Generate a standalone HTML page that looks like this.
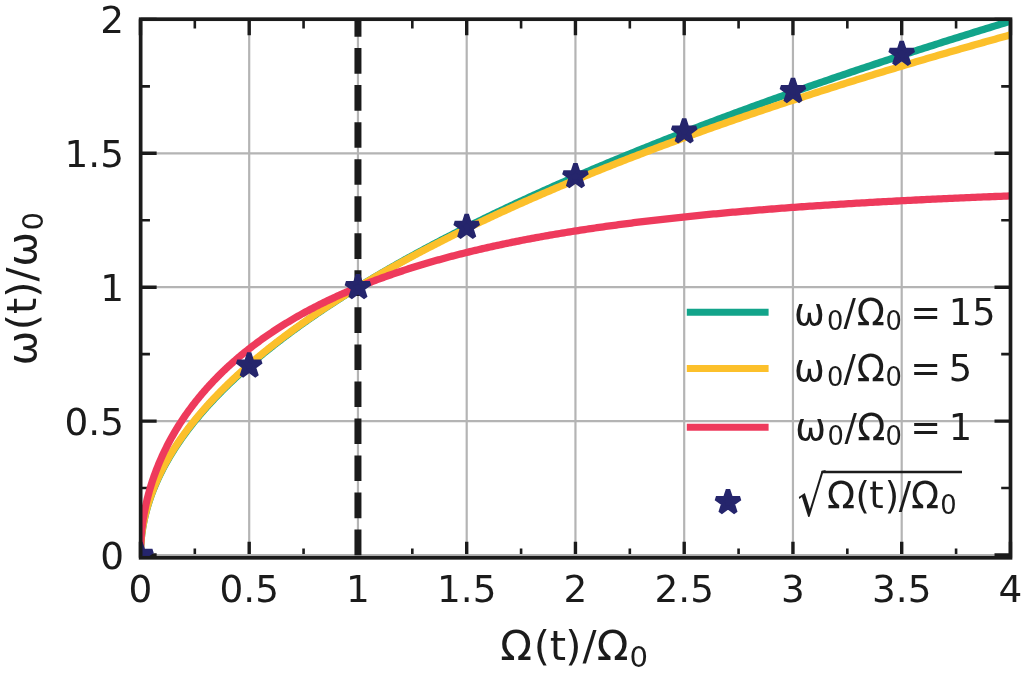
<!DOCTYPE html>
<html><head><meta charset="utf-8"><title>plot</title><style>html,body{margin:0;padding:0;background:#fff}body{width:1025px;height:673px;overflow:hidden}</style></head><body>
<svg width="1025" height="673" viewBox="0 0 1025 673" style="display:block">
<rect width="1025" height="673" fill="#fff"/>
<defs><clipPath id="ax"><rect x="140.65" y="19.20" width="869.85" height="538.60"/></clipPath></defs>
<path d="M140.45 19.2 V557.8 M249.20 19.2 V557.8 M357.95 19.2 V557.8 M466.70 19.2 V557.8 M575.45 19.2 V557.8 M684.20 19.2 V557.8 M792.95 19.2 V557.8 M901.70 19.2 V557.8 M1010.45 19.2 V557.8" stroke="#b4b4b4" stroke-width="2.2" fill="none"/>
<path d="M140.45 557.8 v-16 M140.45 19.2 v16 M249.20 557.8 v-16 M249.20 19.2 v16 M357.95 557.8 v-16 M357.95 19.2 v16 M466.70 557.8 v-16 M466.70 19.2 v16 M575.45 557.8 v-16 M575.45 19.2 v16 M684.20 557.8 v-16 M684.20 19.2 v16 M792.95 557.8 v-16 M792.95 19.2 v16 M901.70 557.8 v-16 M901.70 19.2 v16 M1010.45 557.8 v-16 M1010.45 19.2 v16" stroke="#1b1b1b" stroke-width="3.4" fill="none"/>
<path d="M194.82 557.8 v-9.3 M194.82 19.2 v9.3 M303.57 557.8 v-9.3 M303.57 19.2 v9.3 M412.32 557.8 v-9.3 M412.32 19.2 v9.3 M521.08 557.8 v-9.3 M521.08 19.2 v9.3 M629.83 557.8 v-9.3 M629.83 19.2 v9.3 M738.58 557.8 v-9.3 M738.58 19.2 v9.3 M847.33 557.8 v-9.3 M847.33 19.2 v9.3 M956.08 557.8 v-9.3 M956.08 19.2 v9.3" stroke="#1b1b1b" stroke-width="2.6" fill="none"/>
<path d="M140.65 555.00 H1010.5 M140.65 421.10 H1010.5 M140.65 287.20 H1010.5 M140.65 153.30 H1010.5 M140.65 19.40 H1010.5" stroke="#b4b4b4" stroke-width="2.2" fill="none"/>
<path d="M140.65 555.00 h16 M1010.5 555.00 h-16 M140.65 421.10 h16 M1010.5 421.10 h-16 M140.65 287.20 h16 M1010.5 287.20 h-16 M140.65 153.30 h16 M1010.5 153.30 h-16 M140.65 19.40 h16 M1010.5 19.40 h-16" stroke="#1b1b1b" stroke-width="3.4" fill="none"/>
<path d="M140.65 488.05 h9.3 M1010.5 488.05 h-9.3 M140.65 354.15 h9.3 M1010.5 354.15 h-9.3 M140.65 220.25 h9.3 M1010.5 220.25 h-9.3 M140.65 86.35 h9.3 M1010.5 86.35 h-9.3" stroke="#1b1b1b" stroke-width="2.6" fill="none"/>
<path d="M357.95 555.20 V19.2" stroke="#1b1b1b" stroke-width="7" stroke-dasharray="25.6 11.44" fill="none" clip-path="url(#ax)"/>
<path d="M140.45 555.00 L140.45 554.10 L140.46 553.20 L140.47 552.30 L140.49 551.40 L140.51 550.50 L140.54 549.60 L140.57 548.71 L140.61 547.81 L140.65 546.91 L140.69 546.01 L140.75 545.11 L140.80 544.21 L140.86 543.31 L140.93 542.41 L141.00 541.51 L141.08 540.61 L141.16 539.71 L141.24 538.81 L141.33 537.91 L141.43 537.02 L141.53 536.12 L141.63 535.22 L141.74 534.32 L141.86 533.42 L141.98 532.52 L142.10 531.62 L142.23 530.72 L142.37 529.82 L142.51 528.92 L142.65 528.02 L142.80 527.12 L142.96 526.23 L143.11 525.33 L143.28 524.43 L143.45 523.53 L143.62 522.63 L143.80 521.73 L143.98 520.83 L144.17 519.93 L144.36 519.03 L144.56 518.13 L144.77 517.23 L144.97 516.33 L145.19 515.44 L145.40 514.54 L145.63 513.64 L145.86 512.74 L146.09 511.84 L146.32 510.94 L146.57 510.04 L146.81 509.14 L147.07 508.24 L147.32 507.34 L147.59 506.44 L147.85 505.54 L148.12 504.65 L148.40 503.75 L148.68 502.85 L148.97 501.95 L149.26 501.05 L149.55 500.15 L149.86 499.25 L150.16 498.35 L150.47 497.45 L150.79 496.55 L151.11 495.65 L151.43 494.76 L151.76 493.86 L152.10 492.96 L152.44 492.06 L152.78 491.16 L153.13 490.26 L153.49 489.36 L153.85 488.46 L154.21 487.56 L154.58 486.66 L154.96 485.76 L155.34 484.87 L155.72 483.97 L156.11 483.07 L156.50 482.17 L156.90 481.27 L157.31 480.37 L157.72 479.47 L158.13 478.57 L158.55 477.67 L158.97 476.77 L159.40 475.88 L159.83 474.98 L160.27 474.08 L160.71 473.18 L161.16 472.28 L161.61 471.38 L162.07 470.48 L162.53 469.58 L163.00 468.68 L163.47 467.79 L163.95 466.89 L164.43 465.99 L164.92 465.09 L165.41 464.19 L165.91 463.29 L166.41 462.39 L166.92 461.49 L167.43 460.59 L167.94 459.70 L168.46 458.80 L168.99 457.90 L169.52 457.00 L170.06 456.10 L170.60 455.20 L171.14 454.30 L171.69 453.40 L172.25 452.50 L172.81 451.61 L173.38 450.71 L173.95 449.81 L174.52 448.91 L175.10 448.01 L175.69 447.11 L176.27 446.21 L176.87 445.31 L177.47 444.42 L178.07 443.52 L178.68 442.62 L179.30 441.72 L179.92 440.82 L180.54 439.92 L181.17 439.02 L181.80 438.13 L182.44 437.23 L183.08 436.33 L183.73 435.43 L184.39 434.53 L185.04 433.63 L185.71 432.73 L186.38 431.84 L187.05 430.94 L187.73 430.04 L188.41 429.14 L189.10 428.24 L189.79 427.34 L190.49 426.44 L191.19 425.55 L191.90 424.65 L192.61 423.75 L193.32 422.85 L194.05 421.95 L194.77 421.05 L195.50 420.15 L196.24 419.26 L196.98 418.36 L197.73 417.46 L198.48 416.56 L199.24 415.66 L200.00 414.76 L200.76 413.87 L201.53 412.97 L202.31 412.07 L203.09 411.17 L203.88 410.27 L204.67 409.37 L205.46 408.47 L206.26 407.58 L207.07 406.68 L207.88 405.78 L208.69 404.88 L209.51 403.98 L210.34 403.09 L211.16 402.19 L212.00 401.29 L212.84 400.39 L213.68 399.49 L214.53 398.59 L215.39 397.70 L216.24 396.80 L217.11 395.90 L217.98 395.00 L218.85 394.10 L219.73 393.20 L220.61 392.31 L221.50 391.41 L222.39 390.51 L223.29 389.61 L224.19 388.71 L225.10 387.82 L226.01 386.92 L226.93 386.02 L227.85 385.12 L228.78 384.22 L229.71 383.33 L230.65 382.43 L231.59 381.53 L232.54 380.63 L233.49 379.73 L234.45 378.84 L235.41 377.94 L236.38 377.04 L237.35 376.14 L238.32 375.24 L239.31 374.35 L240.29 373.45 L241.28 372.55 L242.28 371.65 L243.28 370.76 L244.29 369.86 L245.30 368.96 L246.31 368.06 L247.33 367.16 L248.36 366.27 L249.39 365.37 L250.42 364.47 L251.46 363.57 L252.51 362.68 L253.56 361.78 L254.61 360.88 L255.67 359.98 L256.74 359.09 L257.80 358.19 L258.88 357.29 L259.96 356.39 L261.04 355.49 L262.13 354.60 L263.22 353.70 L264.32 352.80 L265.43 351.90 L266.54 351.01 L267.65 350.11 L268.77 349.21 L269.89 348.31 L271.02 347.42 L272.15 346.52 L273.29 345.62 L274.43 344.73 L275.58 343.83 L276.73 342.93 L277.89 342.03 L279.05 341.14 L280.22 340.24 L281.39 339.34 L282.57 338.44 L283.75 337.55 L284.94 336.65 L286.13 335.75 L287.32 334.85 L288.53 333.96 L289.73 333.06 L290.94 332.16 L292.16 331.27 L293.38 330.37 L294.61 329.47 L295.84 328.57 L297.07 327.68 L298.31 326.78 L299.56 325.88 L300.81 324.99 L302.06 324.09 L303.32 323.19 L304.59 322.30 L305.86 321.40 L307.13 320.50 L308.41 319.60 L309.70 318.71 L310.99 317.81 L312.28 316.91 L313.58 316.02 L314.89 315.12 L316.19 314.22 L317.51 313.33 L318.83 312.43 L320.15 311.53 L321.48 310.64 L322.81 309.74 L324.15 308.84 L325.49 307.95 L326.84 307.05 L328.20 306.15 L329.55 305.26 L330.92 304.36 L332.28 303.46 L333.66 302.57 L335.04 301.67 L336.42 300.77 L337.81 299.88 L339.20 298.98 L340.59 298.08 L342.00 297.19 L343.40 296.29 L344.82 295.39 L346.23 294.50 L347.65 293.60 L349.08 292.71 L350.51 291.81 L351.95 290.91 L353.39 290.02 L354.84 289.12 L356.29 288.22 L357.74 287.33 L359.20 286.43 L360.67 285.54 L362.14 284.64 L363.61 283.74 L365.10 282.85 L366.58 281.95 L368.07 281.05 L369.57 280.16 L371.07 279.26 L372.57 278.37 L374.08 277.47 L375.59 276.57 L377.11 275.68 L378.64 274.78 L380.17 273.89 L381.70 272.99 L383.24 272.09 L384.79 271.20 L386.33 270.30 L387.89 269.41 L389.45 268.51 L391.01 267.62 L392.58 266.72 L394.15 265.82 L395.73 264.93 L397.31 264.03 L398.90 263.14 L400.49 262.24 L402.09 261.35 L403.69 260.45 L405.30 259.55 L406.91 258.66 L408.53 257.76 L410.15 256.87 L411.78 255.97 L413.41 255.08 L415.05 254.18 L416.69 253.29 L418.34 252.39 L419.99 251.49 L421.65 250.60 L423.31 249.70 L424.98 248.81 L426.65 247.91 L428.32 247.02 L430.00 246.12 L431.69 245.23 L433.38 244.33 L435.08 243.44 L436.78 242.54 L438.48 241.65 L440.19 240.75 L441.91 239.86 L443.63 238.96 L445.35 238.07 L447.08 237.17 L448.82 236.28 L450.56 235.38 L452.30 234.49 L454.05 233.59 L455.81 232.70 L457.56 231.80 L459.33 230.91 L461.10 230.01 L462.87 229.12 L464.65 228.22 L466.43 227.33 L468.22 226.43 L470.02 225.54 L471.82 224.64 L473.62 223.75 L475.43 222.85 L477.24 221.96 L479.06 221.07 L480.88 220.17 L482.71 219.28 L484.54 218.38 L486.38 217.49 L488.22 216.59 L490.07 215.70 L491.92 214.80 L493.78 213.91 L495.64 213.02 L497.51 212.12 L499.38 211.23 L501.26 210.33 L503.14 209.44 L505.02 208.54 L506.92 207.65 L508.81 206.76 L510.71 205.86 L512.62 204.97 L514.53 204.07 L516.45 203.18 L518.37 202.28 L520.29 201.39 L522.22 200.50 L524.16 199.60 L526.10 198.71 L528.04 197.81 L529.99 196.92 L531.95 196.03 L533.91 195.13 L535.87 194.24 L537.84 193.35 L539.82 192.45 L541.80 191.56 L543.78 190.66 L545.77 189.77 L547.77 188.88 L549.77 187.98 L551.77 187.09 L553.78 186.20 L555.79 185.30 L557.81 184.41 L559.83 183.52 L561.86 182.62 L563.90 181.73 L565.93 180.84 L567.98 179.94 L570.03 179.05 L572.08 178.16 L574.14 177.26 L576.20 176.37 L578.27 175.48 L580.34 174.58 L582.42 173.69 L584.50 172.80 L586.59 171.90 L588.68 171.01 L590.78 170.12 L592.88 169.22 L594.98 168.33 L597.10 167.44 L599.21 166.55 L601.33 165.65 L603.46 164.76 L605.59 163.87 L607.73 162.97 L609.87 162.08 L612.01 161.19 L614.16 160.30 L616.32 159.40 L618.48 158.51 L620.65 157.62 L622.82 156.72 L624.99 155.83 L627.17 154.94 L629.36 154.05 L631.55 153.15 L633.74 152.26 L635.94 151.37 L638.15 150.48 L640.36 149.58 L642.57 148.69 L644.79 147.80 L647.01 146.91 L649.24 146.02 L651.48 145.12 L653.72 144.23 L655.96 143.34 L658.21 142.45 L660.46 141.55 L662.72 140.66 L664.98 139.77 L667.25 138.88 L669.53 137.99 L671.80 137.09 L674.09 136.20 L676.37 135.31 L678.67 134.42 L680.96 133.53 L683.27 132.64 L685.57 131.74 L687.89 130.85 L690.20 129.96 L692.53 129.07 L694.85 128.18 L697.19 127.29 L699.52 126.39 L701.86 125.50 L704.21 124.61 L706.56 123.72 L708.92 122.83 L711.28 121.94 L713.65 121.04 L716.02 120.15 L718.39 119.26 L720.77 118.37 L723.16 117.48 L725.55 116.59 L727.94 115.70 L730.35 114.81 L732.75 113.92 L735.16 113.02 L737.58 112.13 L740.00 111.24 L742.42 110.35 L744.85 109.46 L747.28 108.57 L749.72 107.68 L752.17 106.79 L754.62 105.90 L757.07 105.01 L759.53 104.11 L762.00 103.22 L764.46 102.33 L766.94 101.44 L769.42 100.55 L771.90 99.66 L774.39 98.77 L776.88 97.88 L779.38 96.99 L781.88 96.10 L784.39 95.21 L786.90 94.32 L789.42 93.43 L791.95 92.54 L794.47 91.65 L797.01 90.76 L799.54 89.87 L802.09 88.98 L804.63 88.09 L807.18 87.20 L809.74 86.31 L812.30 85.42 L814.87 84.53 L817.44 83.64 L820.02 82.75 L822.60 81.86 L825.19 80.97 L827.78 80.08 L830.37 79.19 L832.97 78.30 L835.58 77.41 L838.19 76.52 L840.81 75.63 L843.43 74.74 L846.05 73.85 L848.68 72.96 L851.32 72.07 L853.96 71.18 L856.60 70.29 L859.25 69.40 L861.91 68.51 L864.57 67.62 L867.23 66.73 L869.90 65.85 L872.58 64.96 L875.26 64.07 L877.94 63.18 L880.63 62.29 L883.32 61.40 L886.02 60.51 L888.73 59.62 L891.44 58.73 L894.15 57.84 L896.87 56.95 L899.59 56.07 L902.32 55.18 L905.05 54.29 L907.79 53.40 L910.53 52.51 L913.28 51.62 L916.03 50.73 L918.79 49.85 L921.55 48.96 L924.32 48.07 L927.09 47.18 L929.87 46.29 L932.65 45.40 L935.44 44.51 L938.23 43.63 L941.03 42.74 L943.83 41.85 L946.64 40.96 L949.45 40.07 L952.26 39.19 L955.09 38.30 L957.91 37.41 L960.74 36.52 L963.58 35.63 L966.42 34.75 L969.27 33.86 L972.12 32.97 L974.97 32.08 L977.83 31.19 L980.70 30.31 L983.57 29.42 L986.44 28.53 L989.32 27.64 L992.21 26.76 L995.10 25.87 L997.99 24.98 L1000.89 24.09 L1003.80 23.21 L1006.70 22.32 L1009.62 21.43 L1012.54 20.54 L1015.46 19.66 L1018.39 18.77 L1021.33 17.88" stroke="#12a48a" stroke-width="7.3" fill="none" stroke-linejoin="round" clip-path="url(#ax)"/>
<path d="M140.45 555.00 L140.45 554.09 L140.46 553.19 L140.47 552.28 L140.49 551.37 L140.51 550.46 L140.54 549.56 L140.57 548.65 L140.61 547.74 L140.65 546.84 L140.69 545.93 L140.75 545.02 L140.80 544.12 L140.86 543.21 L140.93 542.30 L141.00 541.39 L141.08 540.49 L141.16 539.58 L141.24 538.67 L141.33 537.77 L141.43 536.86 L141.53 535.95 L141.63 535.05 L141.74 534.14 L141.86 533.23 L141.98 532.32 L142.10 531.42 L142.23 530.51 L142.37 529.60 L142.51 528.70 L142.65 527.79 L142.80 526.88 L142.96 525.98 L143.11 525.07 L143.28 524.16 L143.45 523.26 L143.62 522.35 L143.80 521.44 L143.98 520.54 L144.17 519.63 L144.36 518.72 L144.56 517.82 L144.77 516.91 L144.97 516.00 L145.19 515.10 L145.40 514.19 L145.63 513.28 L145.86 512.38 L146.09 511.47 L146.32 510.56 L146.57 509.66 L146.81 508.75 L147.07 507.85 L147.32 506.94 L147.59 506.03 L147.85 505.13 L148.12 504.22 L148.40 503.32 L148.68 502.41 L148.97 501.50 L149.26 500.60 L149.55 499.69 L149.86 498.78 L150.16 497.88 L150.47 496.97 L150.79 496.07 L151.11 495.16 L151.43 494.26 L151.76 493.35 L152.10 492.44 L152.44 491.54 L152.78 490.63 L153.13 489.73 L153.49 488.82 L153.85 487.92 L154.21 487.01 L154.58 486.11 L154.96 485.20 L155.34 484.30 L155.72 483.39 L156.11 482.48 L156.50 481.58 L156.90 480.67 L157.31 479.77 L157.72 478.86 L158.13 477.96 L158.55 477.05 L158.97 476.15 L159.40 475.25 L159.83 474.34 L160.27 473.44 L160.71 472.53 L161.16 471.63 L161.61 470.72 L162.07 469.82 L162.53 468.91 L163.00 468.01 L163.47 467.10 L163.95 466.20 L164.43 465.30 L164.92 464.39 L165.41 463.49 L165.91 462.58 L166.41 461.68 L166.92 460.78 L167.43 459.87 L167.94 458.97 L168.46 458.07 L168.99 457.16 L169.52 456.26 L170.06 455.35 L170.60 454.45 L171.14 453.55 L171.69 452.64 L172.25 451.74 L172.81 450.84 L173.38 449.93 L173.95 449.03 L174.52 448.13 L175.10 447.23 L175.69 446.32 L176.27 445.42 L176.87 444.52 L177.47 443.62 L178.07 442.71 L178.68 441.81 L179.30 440.91 L179.92 440.01 L180.54 439.10 L181.17 438.20 L181.80 437.30 L182.44 436.40 L183.08 435.50 L183.73 434.59 L184.39 433.69 L185.04 432.79 L185.71 431.89 L186.38 430.99 L187.05 430.09 L187.73 429.18 L188.41 428.28 L189.10 427.38 L189.79 426.48 L190.49 425.58 L191.19 424.68 L191.90 423.78 L192.61 422.88 L193.32 421.98 L194.05 421.08 L194.77 420.18 L195.50 419.28 L196.24 418.38 L196.98 417.47 L197.73 416.57 L198.48 415.67 L199.24 414.77 L200.00 413.88 L200.76 412.98 L201.53 412.08 L202.31 411.18 L203.09 410.28 L203.88 409.38 L204.67 408.48 L205.46 407.58 L206.26 406.68 L207.07 405.78 L207.88 404.88 L208.69 403.98 L209.51 403.08 L210.34 402.19 L211.16 401.29 L212.00 400.39 L212.84 399.49 L213.68 398.59 L214.53 397.69 L215.39 396.80 L216.24 395.90 L217.11 395.00 L217.98 394.10 L218.85 393.21 L219.73 392.31 L220.61 391.41 L221.50 390.51 L222.39 389.62 L223.29 388.72 L224.19 387.82 L225.10 386.93 L226.01 386.03 L226.93 385.13 L227.85 384.24 L228.78 383.34 L229.71 382.44 L230.65 381.55 L231.59 380.65 L232.54 379.76 L233.49 378.86 L234.45 377.96 L235.41 377.07 L236.38 376.17 L237.35 375.28 L238.32 374.38 L239.31 373.49 L240.29 372.59 L241.28 371.70 L242.28 370.80 L243.28 369.91 L244.29 369.01 L245.30 368.12 L246.31 367.23 L247.33 366.33 L248.36 365.44 L249.39 364.54 L250.42 363.65 L251.46 362.76 L252.51 361.86 L253.56 360.97 L254.61 360.08 L255.67 359.18 L256.74 358.29 L257.80 357.40 L258.88 356.51 L259.96 355.61 L261.04 354.72 L262.13 353.83 L263.22 352.94 L264.32 352.04 L265.43 351.15 L266.54 350.26 L267.65 349.37 L268.77 348.48 L269.89 347.59 L271.02 346.69 L272.15 345.80 L273.29 344.91 L274.43 344.02 L275.58 343.13 L276.73 342.24 L277.89 341.35 L279.05 340.46 L280.22 339.57 L281.39 338.68 L282.57 337.79 L283.75 336.90 L284.94 336.01 L286.13 335.12 L287.32 334.23 L288.53 333.34 L289.73 332.45 L290.94 331.57 L292.16 330.68 L293.38 329.79 L294.61 328.90 L295.84 328.01 L297.07 327.12 L298.31 326.24 L299.56 325.35 L300.81 324.46 L302.06 323.57 L303.32 322.69 L304.59 321.80 L305.86 320.91 L307.13 320.02 L308.41 319.14 L309.70 318.25 L310.99 317.37 L312.28 316.48 L313.58 315.59 L314.89 314.71 L316.19 313.82 L317.51 312.94 L318.83 312.05 L320.15 311.16 L321.48 310.28 L322.81 309.39 L324.15 308.51 L325.49 307.63 L326.84 306.74 L328.20 305.86 L329.55 304.97 L330.92 304.09 L332.28 303.20 L333.66 302.32 L335.04 301.44 L336.42 300.55 L337.81 299.67 L339.20 298.79 L340.59 297.91 L342.00 297.02 L343.40 296.14 L344.82 295.26 L346.23 294.38 L347.65 293.49 L349.08 292.61 L350.51 291.73 L351.95 290.85 L353.39 289.97 L354.84 289.09 L356.29 288.21 L357.74 287.33 L359.20 286.44 L360.67 285.56 L362.14 284.68 L363.61 283.80 L365.10 282.92 L366.58 282.04 L368.07 281.17 L369.57 280.29 L371.07 279.41 L372.57 278.53 L374.08 277.65 L375.59 276.77 L377.11 275.89 L378.64 275.01 L380.17 274.14 L381.70 273.26 L383.24 272.38 L384.79 271.50 L386.33 270.63 L387.89 269.75 L389.45 268.87 L391.01 267.99 L392.58 267.12 L394.15 266.24 L395.73 265.37 L397.31 264.49 L398.90 263.61 L400.49 262.74 L402.09 261.86 L403.69 260.99 L405.30 260.11 L406.91 259.24 L408.53 258.36 L410.15 257.49 L411.78 256.61 L413.41 255.74 L415.05 254.87 L416.69 253.99 L418.34 253.12 L419.99 252.25 L421.65 251.37 L423.31 250.50 L424.98 249.63 L426.65 248.76 L428.32 247.88 L430.00 247.01 L431.69 246.14 L433.38 245.27 L435.08 244.40 L436.78 243.53 L438.48 242.65 L440.19 241.78 L441.91 240.91 L443.63 240.04 L445.35 239.17 L447.08 238.30 L448.82 237.43 L450.56 236.56 L452.30 235.69 L454.05 234.82 L455.81 233.96 L457.56 233.09 L459.33 232.22 L461.10 231.35 L462.87 230.48 L464.65 229.61 L466.43 228.75 L468.22 227.88 L470.02 227.01 L471.82 226.14 L473.62 225.28 L475.43 224.41 L477.24 223.54 L479.06 222.68 L480.88 221.81 L482.71 220.95 L484.54 220.08 L486.38 219.22 L488.22 218.35 L490.07 217.49 L491.92 216.62 L493.78 215.76 L495.64 214.89 L497.51 214.03 L499.38 213.16 L501.26 212.30 L503.14 211.44 L505.02 210.57 L506.92 209.71 L508.81 208.85 L510.71 207.99 L512.62 207.12 L514.53 206.26 L516.45 205.40 L518.37 204.54 L520.29 203.68 L522.22 202.82 L524.16 201.96 L526.10 201.10 L528.04 200.24 L529.99 199.37 L531.95 198.52 L533.91 197.66 L535.87 196.80 L537.84 195.94 L539.82 195.08 L541.80 194.22 L543.78 193.36 L545.77 192.50 L547.77 191.64 L549.77 190.79 L551.77 189.93 L553.78 189.07 L555.79 188.21 L557.81 187.36 L559.83 186.50 L561.86 185.64 L563.90 184.79 L565.93 183.93 L567.98 183.08 L570.03 182.22 L572.08 181.37 L574.14 180.51 L576.20 179.66 L578.27 178.80 L580.34 177.95 L582.42 177.09 L584.50 176.24 L586.59 175.39 L588.68 174.53 L590.78 173.68 L592.88 172.83 L594.98 171.98 L597.10 171.12 L599.21 170.27 L601.33 169.42 L603.46 168.57 L605.59 167.72 L607.73 166.87 L609.87 166.02 L612.01 165.17 L614.16 164.32 L616.32 163.47 L618.48 162.62 L620.65 161.77 L622.82 160.92 L624.99 160.07 L627.17 159.22 L629.36 158.37 L631.55 157.52 L633.74 156.68 L635.94 155.83 L638.15 154.98 L640.36 154.13 L642.57 153.29 L644.79 152.44 L647.01 151.59 L649.24 150.75 L651.48 149.90 L653.72 149.06 L655.96 148.21 L658.21 147.37 L660.46 146.52 L662.72 145.68 L664.98 144.83 L667.25 143.99 L669.53 143.15 L671.80 142.30 L674.09 141.46 L676.37 140.62 L678.67 139.77 L680.96 138.93 L683.27 138.09 L685.57 137.25 L687.89 136.41 L690.20 135.57 L692.53 134.72 L694.85 133.88 L697.19 133.04 L699.52 132.20 L701.86 131.36 L704.21 130.52 L706.56 129.68 L708.92 128.85 L711.28 128.01 L713.65 127.17 L716.02 126.33 L718.39 125.49 L720.77 124.66 L723.16 123.82 L725.55 122.98 L727.94 122.14 L730.35 121.31 L732.75 120.47 L735.16 119.64 L737.58 118.80 L740.00 117.96 L742.42 117.13 L744.85 116.29 L747.28 115.46 L749.72 114.63 L752.17 113.79 L754.62 112.96 L757.07 112.12 L759.53 111.29 L762.00 110.46 L764.46 109.63 L766.94 108.79 L769.42 107.96 L771.90 107.13 L774.39 106.30 L776.88 105.47 L779.38 104.64 L781.88 103.81 L784.39 102.98 L786.90 102.15 L789.42 101.32 L791.95 100.49 L794.47 99.66 L797.01 98.83 L799.54 98.00 L802.09 97.17 L804.63 96.35 L807.18 95.52 L809.74 94.69 L812.30 93.86 L814.87 93.04 L817.44 92.21 L820.02 91.38 L822.60 90.56 L825.19 89.73 L827.78 88.91 L830.37 88.08 L832.97 87.26 L835.58 86.43 L838.19 85.61 L840.81 84.79 L843.43 83.96 L846.05 83.14 L848.68 82.32 L851.32 81.49 L853.96 80.67 L856.60 79.85 L859.25 79.03 L861.91 78.21 L864.57 77.39 L867.23 76.57 L869.90 75.75 L872.58 74.93 L875.26 74.11 L877.94 73.29 L880.63 72.47 L883.32 71.65 L886.02 70.83 L888.73 70.01 L891.44 69.19 L894.15 68.38 L896.87 67.56 L899.59 66.74 L902.32 65.93 L905.05 65.11 L907.79 64.29 L910.53 63.48 L913.28 62.66 L916.03 61.85 L918.79 61.03 L921.55 60.22 L924.32 59.41 L927.09 58.59 L929.87 57.78 L932.65 56.97 L935.44 56.15 L938.23 55.34 L941.03 54.53 L943.83 53.72 L946.64 52.90 L949.45 52.09 L952.26 51.28 L955.09 50.47 L957.91 49.66 L960.74 48.85 L963.58 48.04 L966.42 47.23 L969.27 46.42 L972.12 45.62 L974.97 44.81 L977.83 44.00 L980.70 43.19 L983.57 42.39 L986.44 41.58 L989.32 40.77 L992.21 39.97 L995.10 39.16 L997.99 38.35 L1000.89 37.55 L1003.80 36.74 L1006.70 35.94 L1009.62 35.13 L1012.54 34.33 L1015.46 33.53 L1018.39 32.72 L1021.33 31.92" stroke="#fcc02b" stroke-width="7.3" fill="none" stroke-linejoin="round" clip-path="url(#ax)"/>
<path d="M140.45 555.00 L140.45 553.93 L140.46 552.86 L140.47 551.80 L140.49 550.73 L140.51 549.66 L140.54 548.59 L140.57 547.52 L140.61 546.46 L140.65 545.39 L140.69 544.32 L140.75 543.25 L140.80 542.19 L140.86 541.12 L140.93 540.05 L141.00 538.98 L141.08 537.92 L141.16 536.85 L141.24 535.79 L141.33 534.72 L141.43 533.65 L141.53 532.59 L141.63 531.52 L141.74 530.46 L141.86 529.39 L141.98 528.33 L142.10 527.26 L142.23 526.20 L142.37 525.14 L142.51 524.07 L142.65 523.01 L142.80 521.95 L142.96 520.89 L143.11 519.83 L143.28 518.77 L143.45 517.70 L143.62 516.64 L143.80 515.58 L143.98 514.53 L144.17 513.47 L144.36 512.41 L144.56 511.35 L144.77 510.29 L144.97 509.24 L145.19 508.18 L145.40 507.13 L145.63 506.07 L145.86 505.02 L146.09 503.96 L146.32 502.91 L146.57 501.86 L146.81 500.80 L147.07 499.75 L147.32 498.70 L147.59 497.65 L147.85 496.60 L148.12 495.55 L148.40 494.51 L148.68 493.46 L148.97 492.41 L149.26 491.37 L149.55 490.32 L149.86 489.28 L150.16 488.23 L150.47 487.19 L150.79 486.15 L151.11 485.11 L151.43 484.07 L151.76 483.03 L152.10 481.99 L152.44 480.95 L152.78 479.92 L153.13 478.88 L153.49 477.84 L153.85 476.81 L154.21 475.78 L154.58 474.75 L154.96 473.71 L155.34 472.68 L155.72 471.65 L156.11 470.63 L156.50 469.60 L156.90 468.57 L157.31 467.55 L157.72 466.52 L158.13 465.50 L158.55 464.48 L158.97 463.46 L159.40 462.44 L159.83 461.42 L160.27 460.40 L160.71 459.38 L161.16 458.37 L161.61 457.35 L162.07 456.34 L162.53 455.33 L163.00 454.32 L163.47 453.31 L163.95 452.30 L164.43 451.29 L164.92 450.28 L165.41 449.28 L165.91 448.28 L166.41 447.27 L166.92 446.27 L167.43 445.27 L167.94 444.27 L168.46 443.28 L168.99 442.28 L169.52 441.29 L170.06 440.29 L170.60 439.30 L171.14 438.31 L171.69 437.32 L172.25 436.33 L172.81 435.35 L173.38 434.36 L173.95 433.38 L174.52 432.40 L175.10 431.41 L175.69 430.44 L176.27 429.46 L176.87 428.48 L177.47 427.51 L178.07 426.53 L178.68 425.56 L179.30 424.59 L179.92 423.62 L180.54 422.65 L181.17 421.69 L181.80 420.72 L182.44 419.76 L183.08 418.80 L183.73 417.84 L184.39 416.88 L185.04 415.92 L185.71 414.97 L186.38 414.02 L187.05 413.06 L187.73 412.11 L188.41 411.17 L189.10 410.22 L189.79 409.27 L190.49 408.33 L191.19 407.39 L191.90 406.45 L192.61 405.51 L193.32 404.57 L194.05 403.64 L194.77 402.71 L195.50 401.78 L196.24 400.85 L196.98 399.92 L197.73 398.99 L198.48 398.07 L199.24 397.15 L200.00 396.22 L200.76 395.31 L201.53 394.39 L202.31 393.47 L203.09 392.56 L203.88 391.65 L204.67 390.74 L205.46 389.83 L206.26 388.93 L207.07 388.02 L207.88 387.12 L208.69 386.22 L209.51 385.32 L210.34 384.42 L211.16 383.53 L212.00 382.64 L212.84 381.75 L213.68 380.86 L214.53 379.97 L215.39 379.09 L216.24 378.20 L217.11 377.32 L217.98 376.45 L218.85 375.57 L219.73 374.69 L220.61 373.82 L221.50 372.95 L222.39 372.08 L223.29 371.22 L224.19 370.35 L225.10 369.49 L226.01 368.63 L226.93 367.77 L227.85 366.91 L228.78 366.06 L229.71 365.21 L230.65 364.36 L231.59 363.51 L232.54 362.66 L233.49 361.82 L234.45 360.98 L235.41 360.14 L236.38 359.30 L237.35 358.47 L238.32 357.63 L239.31 356.80 L240.29 355.98 L241.28 355.15 L242.28 354.33 L243.28 353.50 L244.29 352.68 L245.30 351.87 L246.31 351.05 L247.33 350.24 L248.36 349.43 L249.39 348.62 L250.42 347.81 L251.46 347.01 L252.51 346.21 L253.56 345.41 L254.61 344.61 L255.67 343.81 L256.74 343.02 L257.80 342.23 L258.88 341.44 L259.96 340.65 L261.04 339.87 L262.13 339.09 L263.22 338.31 L264.32 337.53 L265.43 336.76 L266.54 335.99 L267.65 335.22 L268.77 334.45 L269.89 333.68 L271.02 332.92 L272.15 332.16 L273.29 331.40 L274.43 330.65 L275.58 329.89 L276.73 329.14 L277.89 328.39 L279.05 327.65 L280.22 326.90 L281.39 326.16 L282.57 325.42 L283.75 324.68 L284.94 323.95 L286.13 323.22 L287.32 322.49 L288.53 321.76 L289.73 321.03 L290.94 320.31 L292.16 319.59 L293.38 318.87 L294.61 318.16 L295.84 317.45 L297.07 316.73 L298.31 316.03 L299.56 315.32 L300.81 314.62 L302.06 313.92 L303.32 313.22 L304.59 312.52 L305.86 311.83 L307.13 311.14 L308.41 310.45 L309.70 309.76 L310.99 309.08 L312.28 308.40 L313.58 307.72 L314.89 307.04 L316.19 306.37 L317.51 305.70 L318.83 305.03 L320.15 304.36 L321.48 303.69 L322.81 303.03 L324.15 302.37 L325.49 301.72 L326.84 301.06 L328.20 300.41 L329.55 299.76 L330.92 299.11 L332.28 298.47 L333.66 297.83 L335.04 297.19 L336.42 296.55 L337.81 295.91 L339.20 295.28 L340.59 294.65 L342.00 294.02 L343.40 293.40 L344.82 292.78 L346.23 292.16 L347.65 291.54 L349.08 290.92 L350.51 290.31 L351.95 289.70 L353.39 289.09 L354.84 288.49 L356.29 287.89 L357.74 287.29 L359.20 286.69 L360.67 286.09 L362.14 285.50 L363.61 284.91 L365.10 284.32 L366.58 283.73 L368.07 283.15 L369.57 282.57 L371.07 281.99 L372.57 281.42 L374.08 280.84 L375.59 280.27 L377.11 279.70 L378.64 279.14 L380.17 278.57 L381.70 278.01 L383.24 277.45 L384.79 276.90 L386.33 276.34 L387.89 275.79 L389.45 275.24 L391.01 274.70 L392.58 274.15 L394.15 273.61 L395.73 273.07 L397.31 272.53 L398.90 272.00 L400.49 271.47 L402.09 270.94 L403.69 270.41 L405.30 269.88 L406.91 269.36 L408.53 268.84 L410.15 268.32 L411.78 267.81 L413.41 267.29 L415.05 266.78 L416.69 266.27 L418.34 265.77 L419.99 265.26 L421.65 264.76 L423.31 264.26 L424.98 263.77 L426.65 263.27 L428.32 262.78 L430.00 262.29 L431.69 261.80 L433.38 261.32 L435.08 260.84 L436.78 260.35 L438.48 259.88 L440.19 259.40 L441.91 258.93 L443.63 258.46 L445.35 257.99 L447.08 257.52 L448.82 257.06 L450.56 256.59 L452.30 256.13 L454.05 255.68 L455.81 255.22 L457.56 254.77 L459.33 254.32 L461.10 253.87 L462.87 253.42 L464.65 252.98 L466.43 252.54 L468.22 252.10 L470.02 251.66 L471.82 251.23 L473.62 250.79 L475.43 250.36 L477.24 249.93 L479.06 249.51 L480.88 249.08 L482.71 248.66 L484.54 248.24 L486.38 247.82 L488.22 247.41 L490.07 246.99 L491.92 246.58 L493.78 246.17 L495.64 245.77 L497.51 245.36 L499.38 244.96 L501.26 244.56 L503.14 244.16 L505.02 243.77 L506.92 243.37 L508.81 242.98 L510.71 242.59 L512.62 242.20 L514.53 241.82 L516.45 241.43 L518.37 241.05 L520.29 240.67 L522.22 240.29 L524.16 239.92 L526.10 239.54 L528.04 239.17 L529.99 238.80 L531.95 238.43 L533.91 238.07 L535.87 237.71 L537.84 237.34 L539.82 236.98 L541.80 236.63 L543.78 236.27 L545.77 235.92 L547.77 235.57 L549.77 235.22 L551.77 234.87 L553.78 234.52 L555.79 234.18 L557.81 233.84 L559.83 233.50 L561.86 233.16 L563.90 232.82 L565.93 232.49 L567.98 232.16 L570.03 231.82 L572.08 231.50 L574.14 231.17 L576.20 230.84 L578.27 230.52 L580.34 230.20 L582.42 229.88 L584.50 229.56 L586.59 229.25 L588.68 228.93 L590.78 228.62 L592.88 228.31 L594.98 228.00 L597.10 227.69 L599.21 227.39 L601.33 227.08 L603.46 226.78 L605.59 226.48 L607.73 226.19 L609.87 225.89 L612.01 225.59 L614.16 225.30 L616.32 225.01 L618.48 224.72 L620.65 224.43 L622.82 224.15 L624.99 223.86 L627.17 223.58 L629.36 223.30 L631.55 223.02 L633.74 222.74 L635.94 222.46 L638.15 222.19 L640.36 221.92 L642.57 221.64 L644.79 221.38 L647.01 221.11 L649.24 220.84 L651.48 220.58 L653.72 220.31 L655.96 220.05 L658.21 219.79 L660.46 219.53 L662.72 219.27 L664.98 219.02 L667.25 218.76 L669.53 218.51 L671.80 218.26 L674.09 218.01 L676.37 217.76 L678.67 217.52 L680.96 217.27 L683.27 217.03 L685.57 216.79 L687.89 216.55 L690.20 216.31 L692.53 216.07 L694.85 215.83 L697.19 215.60 L699.52 215.36 L701.86 215.13 L704.21 214.90 L706.56 214.67 L708.92 214.44 L711.28 214.22 L713.65 213.99 L716.02 213.77 L718.39 213.55 L720.77 213.33 L723.16 213.11 L725.55 212.89 L727.94 212.67 L730.35 212.46 L732.75 212.24 L735.16 212.03 L737.58 211.82 L740.00 211.61 L742.42 211.40 L744.85 211.19 L747.28 210.99 L749.72 210.78 L752.17 210.58 L754.62 210.37 L757.07 210.17 L759.53 209.97 L762.00 209.77 L764.46 209.58 L766.94 209.38 L769.42 209.19 L771.90 208.99 L774.39 208.80 L776.88 208.61 L779.38 208.42 L781.88 208.23 L784.39 208.04 L786.90 207.85 L789.42 207.67 L791.95 207.48 L794.47 207.30 L797.01 207.12 L799.54 206.94 L802.09 206.76 L804.63 206.58 L807.18 206.40 L809.74 206.22 L812.30 206.05 L814.87 205.88 L817.44 205.70 L820.02 205.53 L822.60 205.36 L825.19 205.19 L827.78 205.02 L830.37 204.85 L832.97 204.69 L835.58 204.52 L838.19 204.36 L840.81 204.19 L843.43 204.03 L846.05 203.87 L848.68 203.71 L851.32 203.55 L853.96 203.39 L856.60 203.23 L859.25 203.08 L861.91 202.92 L864.57 202.77 L867.23 202.61 L869.90 202.46 L872.58 202.31 L875.26 202.16 L877.94 202.01 L880.63 201.86 L883.32 201.71 L886.02 201.56 L888.73 201.42 L891.44 201.27 L894.15 201.13 L896.87 200.99 L899.59 200.84 L902.32 200.70 L905.05 200.56 L907.79 200.42 L910.53 200.28 L913.28 200.15 L916.03 200.01 L918.79 199.87 L921.55 199.74 L924.32 199.60 L927.09 199.47 L929.87 199.34 L932.65 199.20 L935.44 199.07 L938.23 198.94 L941.03 198.81 L943.83 198.69 L946.64 198.56 L949.45 198.43 L952.26 198.30 L955.09 198.18 L957.91 198.05 L960.74 197.93 L963.58 197.81 L966.42 197.69 L969.27 197.56 L972.12 197.44 L974.97 197.32 L977.83 197.21 L980.70 197.09 L983.57 196.97 L986.44 196.85 L989.32 196.74 L992.21 196.62 L995.10 196.51 L997.99 196.39 L1000.89 196.28 L1003.80 196.17 L1006.70 196.05 L1009.62 195.94 L1012.54 195.83 L1015.46 195.72 L1018.39 195.61 L1021.33 195.51" stroke="#ee3a5c" stroke-width="7.3" fill="none" stroke-linejoin="round" clip-path="url(#ax)"/>
<g clip-path="url(#ax)">
<polygon points="140.45,542.40 143.28,551.11 152.43,551.11 145.03,556.49 147.86,565.19 140.45,559.81 133.04,565.19 135.87,556.49 128.47,551.11 137.62,551.11" fill="#25256c" stroke="#25256c" stroke-width="4.50" stroke-linejoin="bevel"/>
<polygon points="249.20,353.04 252.03,361.74 261.18,361.74 253.78,367.12 256.61,375.83 249.20,370.45 241.79,375.83 244.62,367.12 237.22,361.74 246.37,361.74" fill="#25256c" stroke="#25256c" stroke-width="4.50" stroke-linejoin="bevel"/>
<polygon points="357.95,274.60 360.78,283.31 369.93,283.31 362.53,288.69 365.36,297.39 357.95,292.01 350.54,297.39 353.37,288.69 345.97,283.31 355.12,283.31" fill="#25256c" stroke="#25256c" stroke-width="4.50" stroke-linejoin="bevel"/>
<polygon points="466.70,214.41 469.53,223.12 478.68,223.12 471.28,228.50 474.11,237.21 466.70,231.83 459.29,237.21 462.12,228.50 454.72,223.12 463.87,223.12" fill="#25256c" stroke="#25256c" stroke-width="4.50" stroke-linejoin="bevel"/>
<polygon points="575.45,163.67 578.28,172.38 587.43,172.38 580.03,177.76 582.86,186.47 575.45,181.09 568.04,186.47 570.87,177.76 563.47,172.38 572.62,172.38" fill="#25256c" stroke="#25256c" stroke-width="4.50" stroke-linejoin="bevel"/>
<polygon points="684.20,118.97 687.03,127.68 696.18,127.68 688.78,133.06 691.61,141.76 684.20,136.38 676.79,141.76 679.62,133.06 672.22,127.68 681.37,127.68" fill="#25256c" stroke="#25256c" stroke-width="4.50" stroke-linejoin="bevel"/>
<polygon points="792.95,78.56 795.78,87.26 804.93,87.26 797.53,92.64 800.36,101.35 792.95,95.97 785.54,101.35 788.37,92.64 780.97,87.26 790.12,87.26" fill="#25256c" stroke="#25256c" stroke-width="4.50" stroke-linejoin="bevel"/>
<polygon points="901.70,41.39 904.53,50.10 913.68,50.10 906.28,55.48 909.11,64.19 901.70,58.80 894.29,64.19 897.12,55.48 889.72,50.10 898.87,50.10" fill="#25256c" stroke="#25256c" stroke-width="4.50" stroke-linejoin="bevel"/>
</g>
<rect x="140.65" y="19.2" width="869.85" height="538.5999999999999" fill="none" stroke="#1b1b1b" stroke-width="3.7"/>
<g font-family="'DejaVu Sans', 'Liberation Sans', sans-serif" fill="#1b1b1b" font-size="37.4">
<text x="140.45" y="602.3" text-anchor="middle">0</text>
<text x="249.20" y="602.3" text-anchor="middle">0.5</text>
<text x="357.95" y="602.3" text-anchor="middle">1</text>
<text x="466.70" y="602.3" text-anchor="middle">1.5</text>
<text x="575.45" y="602.3" text-anchor="middle">2</text>
<text x="684.20" y="602.3" text-anchor="middle">2.5</text>
<text x="792.95" y="602.3" text-anchor="middle">3</text>
<text x="901.70" y="602.3" text-anchor="middle">3.5</text>
<text x="1010.45" y="602.3" text-anchor="middle">4</text>
<text x="124.0" y="568.90" text-anchor="end">0</text>
<text x="124.0" y="435.00" text-anchor="end">0.5</text>
<text x="124.0" y="301.10" text-anchor="end">1</text>
<text x="124.0" y="167.20" text-anchor="end">1.5</text>
<text x="124.0" y="33.30" text-anchor="end">2</text>
</g>
<g font-family="'DejaVu Sans', 'Liberation Sans', sans-serif" fill="#1b1b1b" font-size="36.8">
<path d="M686.8 312.2 H768.6" stroke="#12a48a" stroke-width="7" fill="none"/>
<text y="324.7"><tspan x="794.07">ω</tspan><tspan x="826.90" dy="5.3" font-size="25.76">0</tspan><tspan x="843.50" dy="-5.3">/</tspan><tspan x="856.70">Ω</tspan><tspan x="885.50" dy="5.3" font-size="25.76">0</tspan><tspan x="910.30" dy="-5.3">=</tspan><tspan x="948.76">15</tspan></text>
<path d="M686.8 368.6 H768.6" stroke="#fcc02b" stroke-width="7" fill="none"/>
<text y="380.8"><tspan x="794.07">ω</tspan><tspan x="826.90" dy="5.3" font-size="25.76">0</tspan><tspan x="843.50" dy="-5.3">/</tspan><tspan x="856.70">Ω</tspan><tspan x="885.50" dy="5.3" font-size="25.76">0</tspan><tspan x="910.30" dy="-5.3">=</tspan><tspan x="948.76">5</tspan></text>
<path d="M686.8 427.2 H768.6" stroke="#ee3a5c" stroke-width="7" fill="none"/>
<text y="439.7"><tspan x="795.27">ω</tspan><tspan x="827.50" dy="5.3" font-size="25.76">0</tspan><tspan x="844.40" dy="-5.3">/</tspan><tspan x="857.20">Ω</tspan><tspan x="885.50" dy="5.3" font-size="25.76">0</tspan><tspan x="910.30" dy="-5.3">=</tspan><tspan x="948.76">1</tspan></text>
<polygon points="728.00,489.60 730.83,498.31 739.98,498.31 732.58,503.69 735.41,512.39 728.00,507.01 720.59,512.39 723.42,503.69 716.02,498.31 725.17,498.31" fill="#25256c" stroke="#25256c" stroke-width="4.50" stroke-linejoin="bevel"/>
<text y="508.4"><tspan x="827.00">Ω</tspan><tspan x="855.54">(</tspan><tspan x="869.31">t</tspan><tspan x="884.65">)</tspan><tspan x="898.7">/</tspan><tspan x="910.90">Ω</tspan><tspan x="940.20" dy="5.4" font-size="25.76">0</tspan></text>
<clipPath id="rc"><rect x="798.5" y="465" width="40" height="60"/></clipPath>
<g clip-path="url(#rc)"><text x="0" y="0" font-size="40.96" transform="matrix(1.06 -0.304 -0.026 1.2449 797.0 519.30)">√</text></g>
<path d="M821.6 472 H962" stroke="#1b1b1b" stroke-width="2.5" fill="none"/>
</g>
<g font-family="'DejaVu Sans', 'Liberation Sans', sans-serif" fill="#1b1b1b" font-size="41.6">
<text y="660.4"><tspan x="500.32">Ω</tspan><tspan x="533.63">(</tspan><tspan x="549.78">t</tspan><tspan x="565.27">)</tspan><tspan x="582.5">/</tspan><tspan x="596.72">Ω</tspan><tspan x="629.38" dy="6.6" font-size="29.12">0</tspan></text>
<text transform="translate(36.2 0) rotate(-90)" y="0"><tspan x="-365.44">ω</tspan><tspan x="-330.27">(</tspan><tspan x="-314.12">t</tspan><tspan x="-297.83">)</tspan><tspan x="-281.5">/</tspan><tspan x="-266.84">ω</tspan><tspan x="-230.62" dy="6.6" font-size="29.12">0</tspan></text>
</g>
</svg>
</body></html>
